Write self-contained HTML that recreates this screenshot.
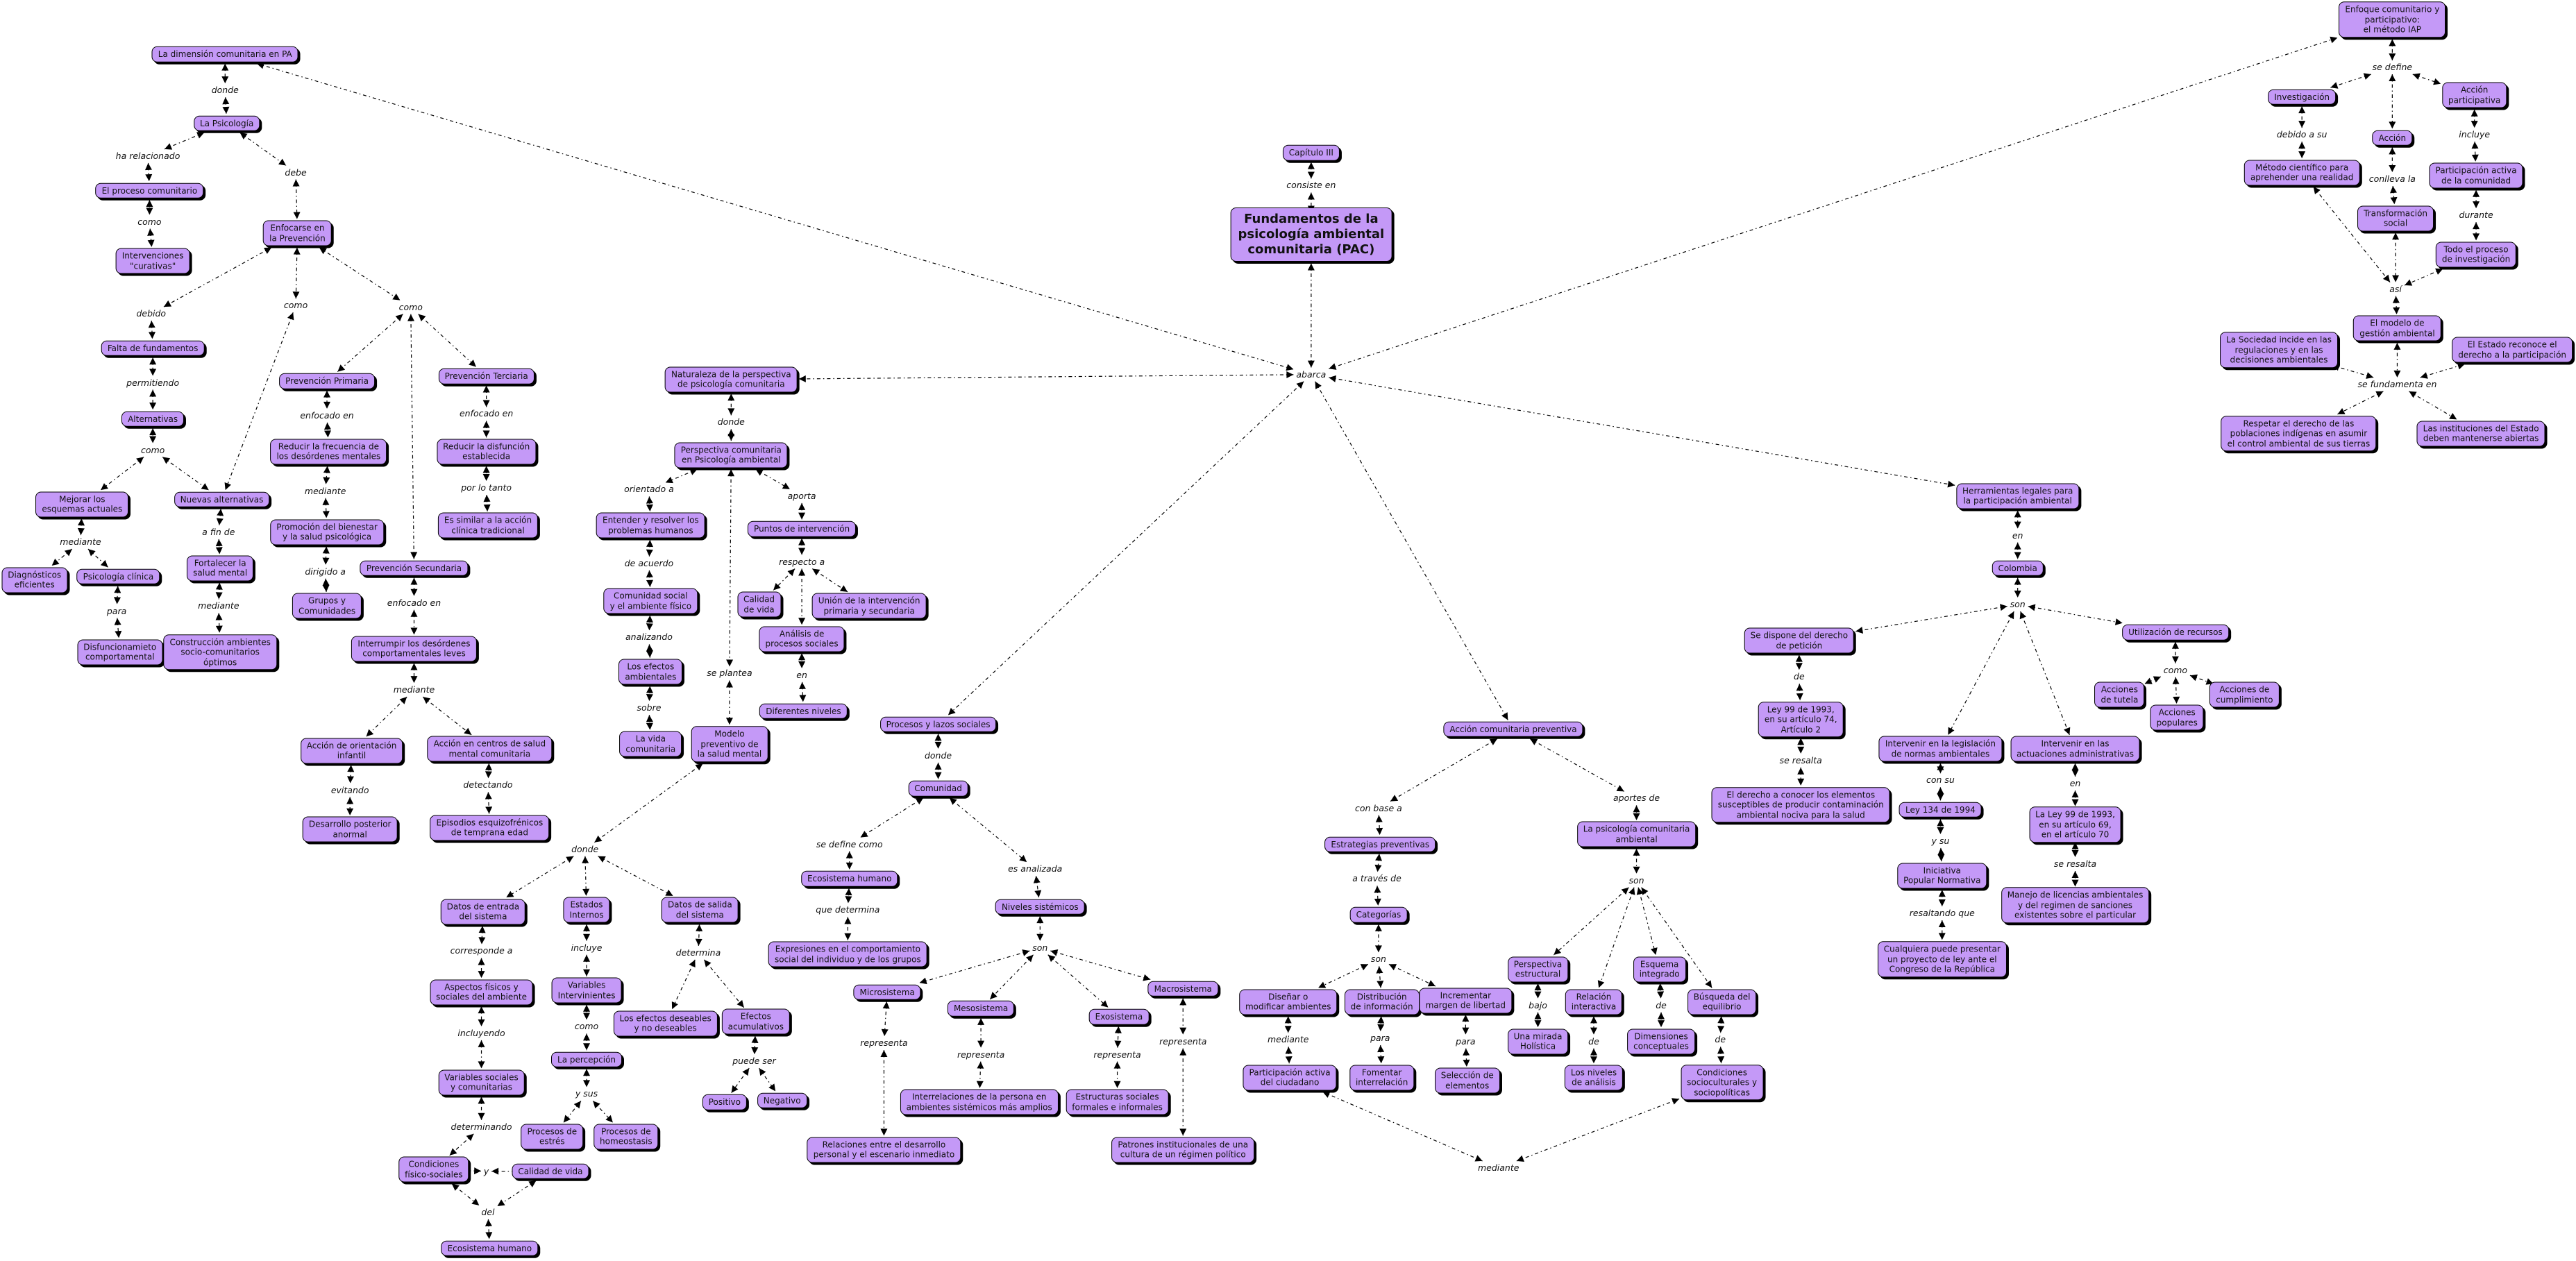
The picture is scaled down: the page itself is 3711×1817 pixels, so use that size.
<!DOCTYPE html>
<html><head><meta charset="utf-8">
<style>
html,body{margin:0;padding:0;background:#fff;}
#wrap{position:relative;width:3711px;height:1817px;overflow:hidden;background:#fff;}
svg{position:absolute;left:0;top:0;z-index:0;}
.n{position:absolute;z-index:1;transform:translate(-50%,-50%);background:#c499f7;border:1.5px solid #000;border-radius:8px;box-shadow:3px 3px 0 #000;padding:3px 8px;font:12px/14.5px "DejaVu Sans","Liberation Sans",sans-serif;color:#111;text-align:center;white-space:pre;}
.b{font-weight:bold;font-size:18px;line-height:22px;padding:5px 10px;}
.l{position:absolute;z-index:1;transform:translate(-50%,-50%);padding:1px 2px;font:italic 12.5px/14px "DejaVu Sans","Liberation Sans",sans-serif;color:#111;white-space:pre;text-align:center;}
</style></head><body>
<div id="wrap"><svg id="s" width="3711" height="1817"></svg></div>
<script>
var S=2.367;
var N={
n1:[137,33,"La dimensión comunitaria en PA"],
l1:[137,55,"donde",1],
n2:[138,75,"La Psicología"],
l2:[90,95,"ha relacionado",1],
l3:[180,105,"debe",1],
n3:[91,116,"El proceso comunitario"],
l4:[91,135,"como",1],
n4:[93,159,"Intervenciones\n\"curativas\""],
n5:[181,142,"Enfocarse en\nla Prevención"],
l5:[92,191,"debido",1],
l6:[180,186,"como",1],
l7:[250,187,"como",1],
n6:[93,212,"Falta de fundamentos"],
l8:[93,233,"permitiendo",1],
n7:[93,255,"Alternativas"],
l9:[93,274,"como",1],
n8:[50,307,"Mejorar los\nesquemas actuales"],
n9:[135,304,"Nuevas alternativas"],
l10:[49,330,"mediante",1],
l11:[133,324,"a fin de",1],
n10:[21,353,"Diagnósticos\neficientes"],
n11:[72,351,"Psicología clínica"],
n12:[134,346,"Fortalecer la\nsalud mental"],
l12:[71,372,"para",1],
l13:[133,369,"mediante",1],
n13:[73,397,"Disfuncionamieto\ncomportamental"],
n14:[134,397,"Construcción ambientes\nsocio-comunitarios\nóptimos"],
n15:[199,232,"Prevención Primaria"],
n16:[296,229,"Prevención Terciaria"],
l14:[199,253,"enfocado en",1],
l15:[296,252,"enfocado en",1],
n17:[200,275,"Reducir la frecuencia de\nlos desórdenes mentales"],
n18:[296,275,"Reducir la disfunción\nestablecida"],
l16:[198,299,"mediante",1],
l17:[296,297,"por lo tanto",1],
n19:[199,324,"Promoción del bienestar\ny la salud psicológica"],
n20:[297,320,"Es similar a la acción\nclínica tradicional"],
l18:[198,348,"dirigido a",1],
n21:[199,369,"Grupos y\nComunidades"],
n22:[252,346,"Prevención Secundaria"],
l19:[252,367,"enfocado en",1],
n23:[252,395,"Interrumpir los desórdenes\ncomportamentales leves"],
l20:[252,420,"mediante",1],
n24:[214,457,"Acción de orientación\ninfantil"],
n25:[298,456,"Acción en centros de salud\nmental comunitaria"],
l21:[213,481,"evitando",1],
l22:[297,478,"detectando",1],
n26:[213,505,"Desarrollo posterior\nanormal"],
n27:[298,504,"Episodios esquizofrénicos\nde temprana edad"],
n28:[445,231,"Naturaleza de la perspectiva\nde psicología comunitaria"],
l23:[445,257,"donde",1],
n29:[445,277,"Perspectiva comunitaria\nen Psicología ambiental"],
l24:[395,298,"orientado a",1],
l25:[488,302,"aporta",1],
n30:[396,320,"Entender y resolver los\nproblemas humanos"],
n31:[488,322,"Puntos de intervención"],
l26:[395,343,"de acuerdo",1],
l27:[488,342,"respecto a",1],
n32:[396,366,"Comunidad social\ny el ambiente físico"],
n33:[462,368,"Calidad\nde vida"],
n34:[529,369,"Unión de la intervención\nprimaria y secundaria"],
l28:[395,388,"analizando",1],
n35:[488,389,"Análisis de\nprocesos sociales"],
n36:[396,409,"Los efectos\nambientales"],
l29:[488,411,"en",1],
l30:[395,431,"sobre",1],
n37:[489,433,"Diferentes niveles"],
n38:[396,453,"La vida\ncomunitaria"],
l31:[444,410,"se plantea",1],
n39:[444,453,"Modelo\npreventivo de\nla salud mental"],
l32:[356,517,"donde",1],
n40:[294,555,"Datos de entrada\ndel sistema"],
n41:[357,554,"Estados\nInternos"],
n42:[426,554,"Datos de salida\ndel sistema"],
l33:[293,579,"corresponde a",1],
l34:[357,577,"incluye",1],
l35:[425,580,"determina",1],
n43:[293,604,"Aspectos físicos y\nsociales del ambiente"],
n44:[357,603,"Variables\nIntervinientes"],
n45:[405,623,"Los efectos deseables\ny no deseables"],
n46:[460,622,"Efectos\nacumulativos"],
l36:[293,629,"incluyendo",1],
l37:[357,625,"como",1],
l38:[459,646,"puede ser",1],
n47:[293,659,"Variables sociales\ny comunitarias"],
n48:[357,645,"La percepción"],
l39:[357,666,"y sus",1],
n49:[441,671,"Positivo"],
n50:[476,670,"Negativo"],
l40:[293,686,"determinando",1],
n51:[336,692,"Procesos de\nestrés"],
n52:[381,692,"Procesos de\nhomeostasis"],
n53:[264,712,"Condiciones\nfísico-sociales"],
l41:[296,713,"y",1],
n54:[335,713,"Calidad de vida"],
l42:[297,738,"del",1],
n55:[298,760,"Ecosistema humano"],
n56:[798,93,"Capítulo III"],
l43:[798,113,"consiste en",1],
n57:[798,143,"Fundamentos de la\npsicología ambiental\ncomunitaria (PAC)",2],
l44:[798,228,"abarca",1],
n58:[571,441,"Procesos y lazos sociales"],
l45:[571,460,"donde",1],
n59:[571,480,"Comunidad"],
l46:[517,514,"se define como",1],
l47:[630,529,"es analizada",1],
n60:[517,535,"Ecosistema humano"],
l48:[516,554,"que determina",1],
n61:[516,581,"Expresiones en el comportamiento\nsocial del individuo y de los grupos"],
n62:[633,552,"Niveles sistémicos"],
l49:[633,577,"son",1],
n63:[540,604,"Microsistema"],
n64:[597,614,"Mesosistema"],
n65:[681,619,"Exosistema"],
n66:[720,602,"Macrosistema"],
l50:[538,635,"representa",1],
l51:[597,642,"representa",1],
l52:[680,642,"representa",1],
l53:[720,634,"representa",1],
n67:[596,671,"Interrelaciones de la persona en\nambientes sistémicos más amplios"],
n68:[680,671,"Estructuras sociales\nformales e informales"],
n69:[538,700,"Relaciones entre el desarrollo\npersonal y el escenario inmediato"],
n70:[720,700,"Patrones institucionales de una\ncultura de un régimen político"],
n71:[921,444,"Acción comunitaria preventiva"],
l54:[839,492,"con base a",1],
l55:[996,486,"aportes de",1],
n72:[840,514,"Estrategias preventivas"],
n73:[996,508,"La psicología comunitaria\nambiental"],
l56:[838,535,"a través de",1],
l57:[996,536,"son",1],
n74:[839,557,"Categorías"],
l58:[839,584,"son",1],
n75:[936,590,"Perspectiva\nestructural"],
n76:[1010,590,"Esquema\nintegrado"],
n77:[784,610,"Diseñar o\nmodificar ambientes"],
n78:[841,610,"Distribución\nde información"],
n79:[892,609,"Incrementar\nmargen de libertad"],
n80:[970,610,"Relación\ninteractiva"],
n81:[1048,610,"Búsqueda del\nequilibrio"],
l59:[936,612,"bajo",1],
l60:[1011,612,"de",1],
l61:[784,633,"mediante",1],
l62:[840,632,"para",1],
l63:[892,634,"para",1],
l64:[970,634,"de",1],
l65:[1047,633,"de",1],
n82:[936,634,"Una mirada\nHolística"],
n83:[1011,634,"Dimensiones\nconceptuales"],
n84:[785,656,"Participación activa\ndel ciudadano"],
n85:[841,656,"Fomentar\ninterrelación"],
n86:[893,658,"Selección de\nelementos"],
n87:[970,656,"Los niveles\nde análisis"],
n88:[1048,659,"Condiciones\nsocioculturales y\nsociopolíticas"],
l66:[912,711,"mediante",1],
n89:[1456,12,"Enfoque comunitario y\nparticipativo:\nel método IAP"],
l67:[1456,41,"se define",1],
n90:[1401,59,"Investigación"],
n91:[1456,84,"Acción"],
n92:[1506,58,"Acción\nparticipativa"],
l68:[1401,82,"debido a su",1],
l69:[1506,82,"incluye",1],
l70:[1456,109,"conlleva la",1],
n93:[1401,105,"Método científico para\naprehender una realidad"],
n94:[1507,107,"Participación activa\nde la comunidad"],
l71:[1507,131,"durante",1],
n95:[1458,133,"Transformación\nsocial"],
n96:[1507,155,"Todo el proceso\nde investigación"],
l72:[1458,176,"así",1],
n97:[1459,200,"El modelo de\ngestión ambiental"],
n98:[1387,213,"La Sociedad incide en las\nregulaciones y en las\ndecisiones ambientales"],
n99:[1529,213,"El Estado reconoce el\nderecho a la participación"],
l73:[1459,234,"se fundamenta en",1],
n100:[1399,264,"Respetar el derecho de las\npoblaciones indígenas en asumir\nel control ambiental de sus tierras"],
n101:[1510,264,"Las instituciones del Estado\ndeben mantenerse abiertas"],
n102:[1228,302,"Herramientas legales para\nla participación ambiental"],
l74:[1228,326,"en",1],
n103:[1228,346,"Colombia"],
l75:[1228,368,"son",1],
n104:[1095,390,"Se dispone del derecho\nde petición"],
n105:[1324,385,"Utilización de recursos"],
l76:[1095,412,"de",1],
l77:[1324,408,"como",1],
n106:[1290,423,"Acciones\nde tutela"],
n107:[1366,423,"Acciones de\ncumplimiento"],
n108:[1325,437,"Acciones\npopulares"],
n109:[1096,438,"Ley 99 de 1993,\nen su artículo 74,\nArtículo 2"],
l78:[1096,463,"se resalta",1],
n110:[1096,490,"El derecho a conocer los elementos\nsusceptibles de producir contaminación\nambiental nociva para la salud"],
n111:[1181,456,"Intervenir en la legislación\nde normas ambientales"],
n112:[1263,456,"Intervenir en las\nactuaciones administrativas"],
l79:[1181,475,"con su",1],
l80:[1263,477,"en",1],
n113:[1181,493,"Ley 134 de 1994"],
n114:[1263,502,"La Ley 99 de 1993,\nen su artículo 69,\nen el artículo 70"],
l81:[1181,512,"y su",1],
l82:[1263,526,"se resalta",1],
n115:[1182,533,"Iniciativa\nPopular Normativa"],
n116:[1263,551,"Manejo de licencias ambientales\ny del regimen de sanciones\nexistentes sobre el particular"],
l83:[1182,556,"resaltando que",1],
n117:[1182,584,"Cualquiera puede presentar\nun proyecto de ley ante el\nCongreso de la República"]
};
var E="n1-l1 l1-n2 n2-l2 l2-n3 n2-l3 l3-n5 n3-l4 l4-n4 n5-l5 l5-n6 n5-l6 l6-n9 n5-l7 l7-n15 l7-n16 l7-n22 n6-l8 l8-n7 n7-l9 l9-n8 l9-n9 n8-l10 l10-n10 l10-n11 n9-l11 l11-n12 n11-l12 l12-n13 n12-l13 l13-n14 n15-l14 l14-n17 n16-l15 l15-n18 n17-l16 l16-n19 n18-l17 l17-n20 n19-l18 l18-n21 n22-l19 l19-n23 n23-l20 l20-n24 l20-n25 n24-l21 l21-n26 n25-l22 l22-n27 n1-l44 n28-l23 l23-n29 n29-l24 l24-n30 n29-l25 l25-n31 n29-l31 l31-n39 n30-l26 l26-n32 n32-l28 l28-n36 n36-l30 l30-n38 n31-l27 l27-n33 l27-n34 l27-n35 n35-l29 l29-n37 n39-l32 l32-n40 l32-n41 l32-n42 n40-l33 l33-n43 n43-l36 l36-n47 n47-l40 l40-n53 n41-l34 l34-n44 n44-l37 l37-n48 n48-l39 l39-n51 l39-n52 n42-l35 l35-n45 l35-n46 n46-l38 l38-n49 l38-n50 n53-l41 l41-n54 n53-l42 n54-l42 l42-n55 n56-l43 l43-n57 n57-l44 l44-n28 l44-n58 l44-n71 l44-n89 l44-n102 n58-l45 l45-n59 n59-l46 l46-n60 n60-l48 l48-n61 n59-l47 l47-n62 n62-l49 l49-n63 l49-n64 l49-n65 l49-n66 n63-l50 l50-n69 n64-l51 l51-n67 n65-l52 l52-n68 n66-l53 l53-n70 n71-l54 l54-n72 n72-l56 l56-n74 n74-l58 l58-n77 l58-n78 l58-n79 n71-l55 l55-n73 n73-l57 l57-n75 l57-n76 l57-n80 l57-n81 n75-l59 l59-n82 n76-l60 l60-n83 n80-l64 l64-n87 n81-l65 l65-n88 n77-l61 l61-n84 n78-l62 l62-n85 n79-l63 l63-n86 n84-l66 n88-l66 n89-l67 l67-n90 l67-n91 l67-n92 n90-l68 l68-n93 n92-l69 l69-n94 n94-l71 l71-n96 n91-l70 l70-n95 n93-l72 n95-l72 n96-l72 l72-n97 n97-l73 l73-n98 l73-n99 l73-n100 l73-n101 n102-l74 l74-n103 n103-l75 l75-n104 l75-n105 l75-n111 l75-n112 n104-l76 l76-n109 n109-l78 l78-n110 n105-l77 l77-n106 l77-n107 l77-n108 n111-l79 l79-n113 n113-l81 l81-n115 n115-l83 l83-n117 n112-l80 l80-n114 n114-l82 l82-n116";
var w=document.getElementById('wrap'),s=document.getElementById('s'),h='';
var D={};
for(var k in N){var v=N[k],d=document.createElement('div');
d.className=v[3]==1?'l':(v[3]==2?'n b':'n');
d.style.left=(v[0]*S)+'px';d.style.top=(v[1]*S)+'px';d.textContent=v[2];w.appendChild(d);D[k]=d;}
function clip(k,ox,oy){var v=N[k],cx=v[0]*S,cy=v[1]*S,d=D[k];
var hw=d.offsetWidth/2+2,hh=d.offsetHeight/2+2;var dx=ox-cx,dy=oy-cy;
var t=Math.min(dx?hw/Math.abs(dx):1e9,dy?hh/Math.abs(dy):1e9);if(t>0.45)t=0.45;
return [cx+dx*t,cy+dy*t];}
function arr(p,q){var dx=q[0]-p[0],dy=q[1]-p[1],L=Math.sqrt(dx*dx+dy*dy)||1;dx/=L;dy/=L;
var bx=p[0]+dx*10,by=p[1]+dy*10;
return '<polygon points="'+p[0]+','+p[1]+' '+(bx-dy*5)+','+(by+dx*5)+' '+(bx+dy*5)+','+(by-dx*5)+'" fill="#000"/>';}
E.split(' ').forEach(function(pr){var a=pr.split('-')[0],b=pr.split('-')[1];
var A=N[a],B=N[b];var p=clip(a,B[0]*S,B[1]*S),q=clip(b,A[0]*S,A[1]*S);
h+='<line x1="'+p[0]+'" y1="'+p[1]+'" x2="'+q[0]+'" y2="'+q[1]+'" stroke="#000" stroke-width="1.2" stroke-dasharray="5,4,1.5,4"/>';
h+=arr(p,q)+arr(q,p);});
s.innerHTML=h;
</script>
</body></html>
